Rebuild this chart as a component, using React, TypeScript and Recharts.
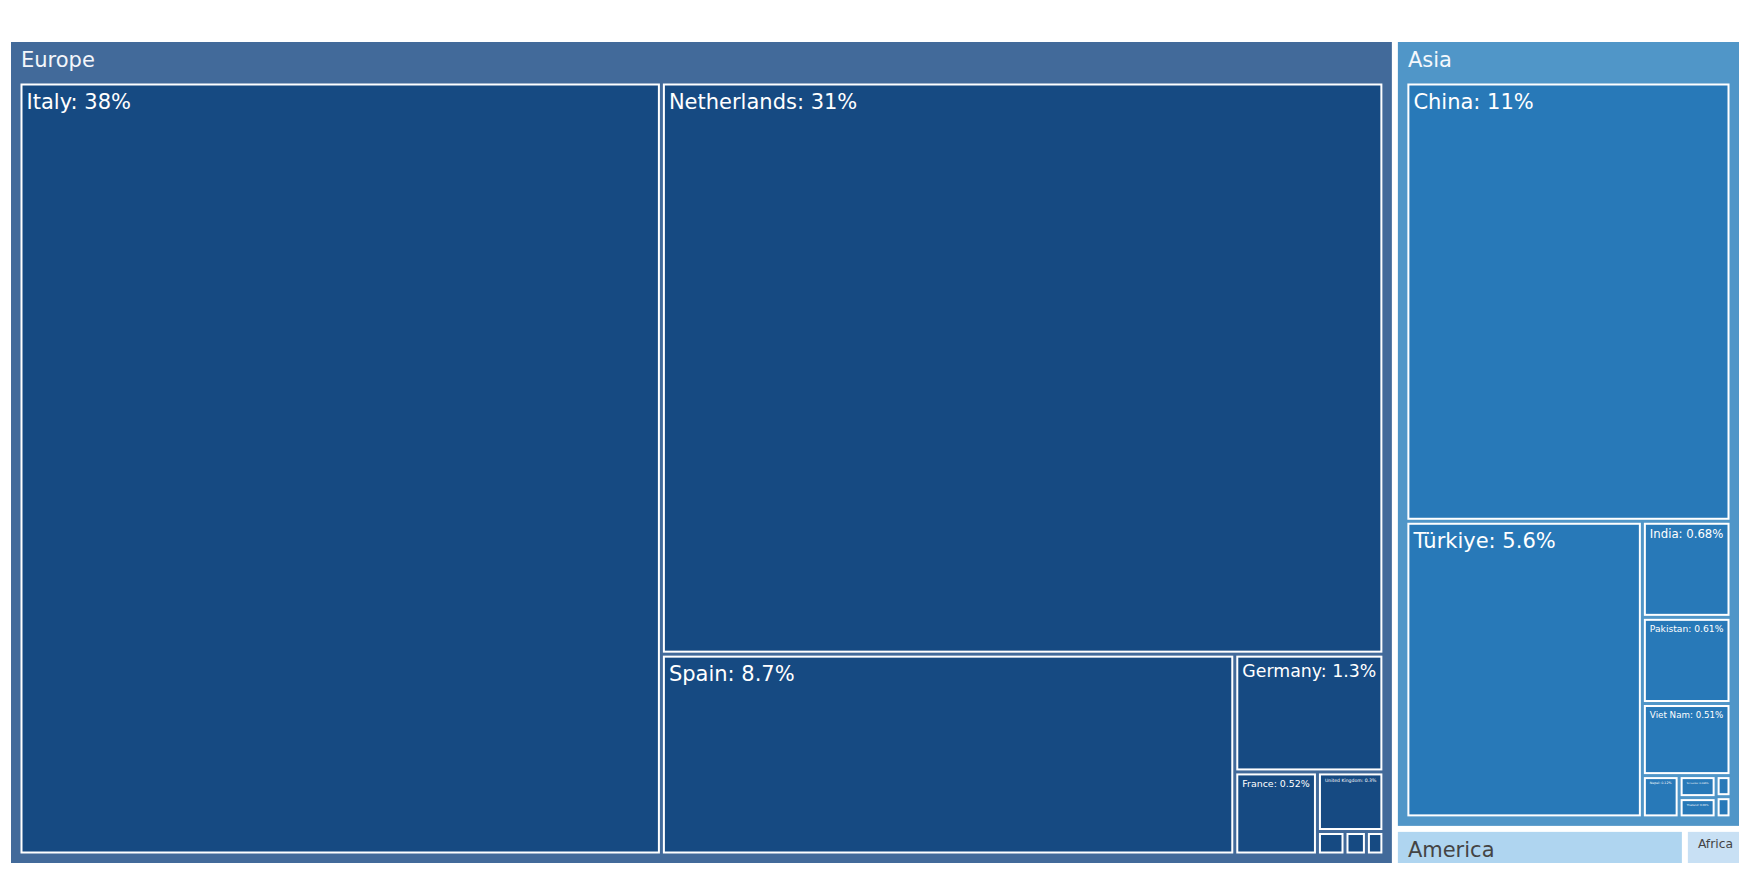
import React from 'react';
import { Treemap } from 'recharts';

// ---- data (shares of total, in %) ----
const continents = ['Europe', 'Asia', 'America', 'Africa'];
const europeNames = ['Italy', 'Netherlands', 'Spain', 'Germany', 'France', 'United Kingdom', 'Belgium', 'Poland', 'Greece'];
const europeValues = [37.6, 31.3, 8.72, 1.33, 0.52, 0.3, 0.049, 0.038, 0.028];
const asiaNames = ['China', 'Türkiye', 'India', 'Pakistan', 'Viet Nam', 'Nepal', 'Sri Lanka', 'Thailand', 'Japan', 'Iran'];
const asiaValues = [11.4, 5.6, 0.68, 0.61, 0.51, 0.124, 0.065, 0.06, 0.025, 0.022];
const americaValue = 0.75;
const africaValue = 0.15;

// ---- styles ----
const groupFill: Record<string, string> = {
  Europe: '#426A9A',
  Asia: '#5096C8',
  America: '#AFD5F0',
  Africa: '#C8E0F4',
};
const groupText: Record<string, string> = {
  Europe: '#F4F6FA',
  Asia: '#F4F8FC',
  America: '#444444',
  Africa: '#444444',
};
const leafFill: Record<string, string> = {
  Europe: '#164A82',
  Asia: '#2879B8',
};

const data = [
  { name: continents[0], children: europeNames.map((n, i) => ({ name: n, size: europeValues[i], group: continents[0] })) },
  { name: continents[1], children: asiaNames.map((n, i) => ({ name: n, size: asiaValues[i], group: continents[1] })) },
  { name: continents[2], size: americaValue },
  { name: continents[3], size: africaValue },
];

const FONT = '"DejaVu Sans", Verdana, sans-serif';
let ctx: CanvasRenderingContext2D | null = null;
function measure(text: string, size: number): number {
  if (!ctx && typeof document !== 'undefined') {
    ctx = document.createElement('canvas').getContext('2d');
  }
  if (ctx) {
    ctx.font = `${size}px ${FONT}`;
    return ctx.measureText(text).width;
  }
  return text.length * 0.6 * size;
}
const MAXF = 21;
function fitFont(text: string, avail: number): number {
  const w20 = measure(text, 20);
  return Math.min(MAXF, (20 * avail) / w20);
}

// The treemap is laid out on a finer grid (K times larger) so that the
// library's integer rounding of tiles does not distort the smallest cells;
// every coordinate is divided by K when drawn.
const K = 8;
const W = 1734;
const H = 827;
const GAP = 3;
const PAD = 8;
const HEADER = 40;
const groupRects: Record<string, { x: number; y: number; width: number; height: number }> = {};

function fmtPct(v: number): string {
  return `${parseFloat(v.toPrecision(2))}%`;
}

const NodeContent = (props: any) => {
  const { depth, name } = props;
  if (depth === 0 || props.width == null) return <g />;
  const x = props.x / K;
  const y = props.y / K;
  const width = props.width / K;
  const height = props.height / K;
  if (depth === 1) {
    groupRects[name] = { x, y, width, height };
    const gx = x + GAP;
    const gy = y + GAP;
    const gw = Math.max(0, width - 2 * GAP);
    const gh = Math.max(0, height - 2 * GAP);
    const fs = fitFont(name, gw - 16);
    return (
      <g>
        <rect x={gx} y={gy} width={gw} height={gh} fill={groupFill[name]} stroke="none" />
        <text x={gx + 10} y={gy + 4 + fs} fontSize={fs} fontFamily={FONT} fill={groupText[name]}>
          {name}
        </text>
      </g>
    );
  }
  const root = props.root;
  const parent =
    root && root.depth === 1 && root.width
      ? { x: root.x / K, y: root.y / K, width: root.width / K, height: root.height / K }
      : groupRects[props.group];
  if (!parent) return <g />;
  const px = parent.x + GAP + PAD;
  const py = parent.y + GAP + HEADER;
  const pw = parent.width - 2 * GAP - 2 * PAD;
  const ph = parent.height - 2 * GAP - HEADER - PAD;
  const sx = pw / parent.width;
  const sy = ph / parent.height;
  const cx = px + (x - parent.x) * sx;
  const cy = py + (y - parent.y) * sy;
  const cw = width * sx;
  const ch = height * sy;
  const label = `${name}: ${fmtPct(props.size ?? props.value)}`;
  const vw = cw - 3;
  let fs = fitFont(label, vw - 12);
  fs = Math.min(fs, ch - 10);
  const showLabel = vw >= 20 && fs >= 1.5;
  return (
    <g>
      <rect
        x={cx + 2.5}
        y={cy + 2.5}
        width={Math.max(0, cw - 5)}
        height={Math.max(0, ch - 5)}
        fill={leafFill[props.group] || '#164A82'}
        stroke="#FFFFFF"
        strokeWidth={2}
      />
      {showLabel && (
        <text x={cx + 7.5} y={cy + 1.5 + 4 + fs} fontSize={fs} fontFamily={FONT} fill="#FFFFFF">
          {label}
        </text>
      )}
    </g>
  );
};

export default function App() {
  return (
    <div style={{ paddingTop: 31, fontFamily: FONT }}>
      <div style={{ width: W, height: H, overflow: 'hidden', position: 'relative' }}>
        <Treemap
          width={W * K}
          height={H * K}
          data={data}
          dataKey="size"
          nameKey="name"
          aspectRatio={1}
          type="flat"
          isAnimationActive={false}
          content={<NodeContent />}
        />
      </div>
    </div>
  );
}
